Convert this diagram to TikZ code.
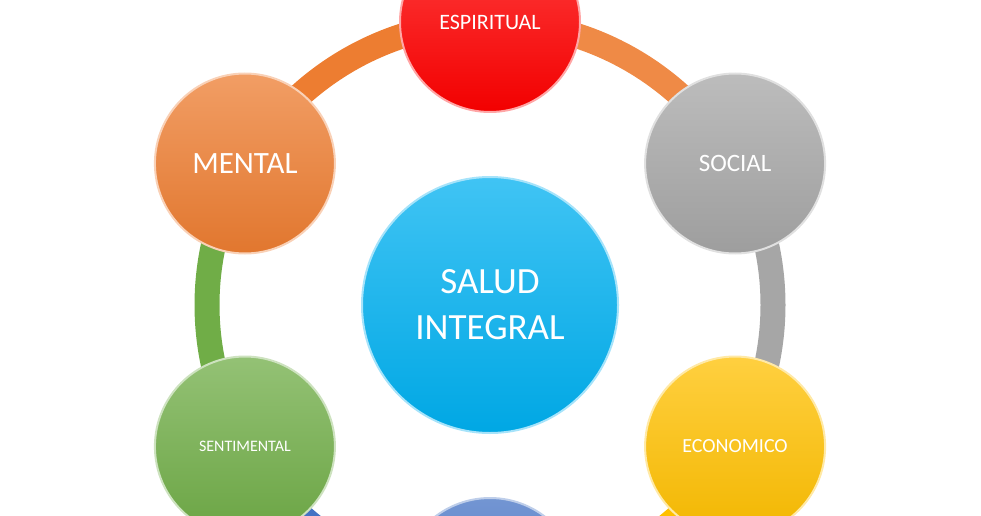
\documentclass[tikz,border=0pt]{standalone}
\usepackage{fontspec}
\setmainfont{Carlito}
\usetikzlibrary{calc}
\definecolor{cblue}{HTML}{00B0F0}
\definecolor{cred}{HTML}{FF0000}
\definecolor{cgray}{HTML}{A6A6A6}
\definecolor{cyel}{HTML}{FFC000}
\definecolor{cdblue}{HTML}{4472C4}
\definecolor{cgreen}{HTML}{70AD47}
\definecolor{corange}{HTML}{ED7D31}
\tikzset{
  ball/.style={circle, minimum size=180pt, inner sep=0pt, text=white, align=center,
    top color=#1!75!white, bottom color=#1!95!black, draw=#1!35!white, line width=2pt},
  ring/.style={line width=25pt, draw=#1}
}
\begin{document}
\begin{tikzpicture}[x=1pt,y=1pt]
\useasboundingbox (0,0) rectangle (981,515);
\clip (0,0) rectangle (981,515);
\coordinate (c) at (490,210);
\draw[ring=corange] (c) ++(150:283) arc (150:90:283);
\draw[ring=corange!90!white] (c) ++(90:283) arc (90:30:283);
\draw[ring=cgray] (c) ++(30:283) arc (30:-30:283);
\draw[ring=cyel] (c) ++(-30:283) arc (-30:-90:283);
\draw[ring=cdblue] (c) ++(-90:283) arc (-90:-150:283);
\draw[ring=cgreen] (c) ++(-150:283) arc (-150:-210:283);
\node[ball=cred] (esp) at ($(c)+(90:283)$) {};
\node[text=white, font=\fontsize{22}{26}\selectfont] (espt) at (490,493) {ESPIRITUAL};
\node[ball=cgray, font=\fontsize{25}{28}\selectfont] (soc) at ($(c)+(30:283)$) {SOCIAL};
\node[ball=cyel, font=\fontsize{20}{24}\selectfont] (eco) at ($(c)+(-30:283)$) {ECONOMICO};
\node[ball=cdblue] (bot) at ($(c)+(-90:283)$) {};
\node[ball=cgreen, font=\fontsize{16}{20}\selectfont] (sen) at ($(c)+(-150:283)$) {SENTIMENTAL};
\node[ball=corange, font=\fontsize{31}{34}\selectfont] (men) at ($(c)+(150:283)$) {MENTAL};
\node[ball=cblue, minimum size=256pt, font=\fontsize{37}{46}\selectfont] (sal) at (c) {SALUD\\INTEGRAL};
\end{tikzpicture}
\end{document}
